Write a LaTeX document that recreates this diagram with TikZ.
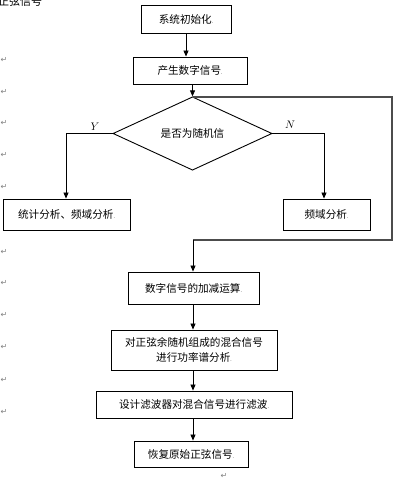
\documentclass[tikz,border=0pt]{standalone}
\usepackage{fontspec}
\newfontfamily\cjk{Noto Sans CJK SC}
\newfontfamily\sym{DejaVu Sans}
\usetikzlibrary{shapes.geometric,arrows.meta}
\begin{document}
\begin{tikzpicture}[x=1pt,y=-1pt,
  box/.style={draw=black,line width=0.9pt,inner sep=0pt,font=\cjk\fontsize{10.6}{15}\selectfont,align=center},
  dec/.style={draw=black,line width=0.9pt,diamond,inner sep=0pt,minimum width=159pt,minimum height=47pt,font=\cjk\fontsize{10.6}{12}\selectfont},
  flow/.style={draw=black,line width=0.8pt,-{Triangle[width=5pt,length=6pt]}},
  loopline/.style={draw=black!70,line width=1.3pt},
  pmark/.style={text=black!50,font=\sym\fontsize{8}{8}\selectfont,inner sep=0pt},
  tail/.style={text=black!50,font=\tiny},
  lbl/.style={font=\itshape\fontsize{11}{11}\selectfont,inner sep=0pt}]
\useasboundingbox (0,0) rectangle (401,487);
\fill[white] (0,0) rectangle (401,487);
% partly cut text at top
\begin{scope}
\clip (0,0) rectangle (60,6);
\node[anchor=west,inner sep=0pt,font=\cjk\fontsize{11}{11}\selectfont] (cut) at (-2,1) {正弦信号};
\end{scope}
% paragraph marks on the left margin
\foreach \yy [count=\i] in {60,92,123,155,187,252,283,315,347,380,412}
  \node[pmark] (pm\i) at (4,\yy) {↵};
\node[pmark] (pend) at (224,476) {↵};
% boxes
\node[box,minimum width=90pt,minimum height=28pt] (b1) at (186,19) {系统初始化{\tiny.}};
\node[box,minimum width=114pt,minimum height=27pt] (b2) at (190,70.5) {产生数字信号{\tiny.}};
\node[dec] (d) at (192.5,133.5) {是否为随机信};
\node[box,minimum width=127pt,minimum height=31pt] (L) at (66.5,214.5) {统计分析、频域分析{\tiny.}};
\node[box,minimum width=87pt,minimum height=31pt] (R) at (326.5,214.5) {频域分析{\tiny.}};
\node[box,minimum width=131pt,minimum height=32pt] (jj) at (193.5,288) {数字信号的加减运算{\tiny.}};
\node[box,minimum width=166pt,minimum height=40pt] (gp) at (194,350) {对正弦余随机组成的混合信号\\进行功率谱分析{\tiny.}};
\node[box,minimum width=196pt,minimum height=27pt] (lb) at (194,404.5) {设计滤波器对混合信号进行滤波{\tiny.}};
\node[box,minimum width=114pt,minimum height=26pt] (hf) at (191,454) {恢复原始正弦信号{\tiny.}};
% labels
\node[lbl] (Y) at (95,127) {$Y$};
\node[lbl] (N) at (290,125) {$N$};
% connectors
\coordinate (c1) at (186,0);
\draw[flow] (b1.south -| c1) -- (b2.north -| c1);
\coordinate (c2) at (192.5,97);
\draw[flow] (b2.south -| c2) -- (d.north);
\coordinate (lx) at (66,0);
\coordinate (rx) at (324,0);
\draw[flow] (d.west) -- (d.west -| lx) -- (L.north -| lx);
\draw[flow] (d.east) -- (d.east -| rx) -- (R.north -| rx);
\coordinate (t1) at (392,97);
\coordinate (t2) at (392,240);
\coordinate (t3) at (193,240);
\draw[loopline] (c2) -- (t1) -- (t2) -- (t3);
\draw[flow] (t3) -- (jj.north -| t3);
\coordinate (c3) at (193,0);
\draw[flow] (jj.south -| c3) -- (gp.north -| c3);
\draw[flow] (gp.south -| c3) -- (lb.north -| c3);
\draw[flow] (lb.south -| c3) -- (hf.north -| c3);
\end{tikzpicture}
\end{document}
